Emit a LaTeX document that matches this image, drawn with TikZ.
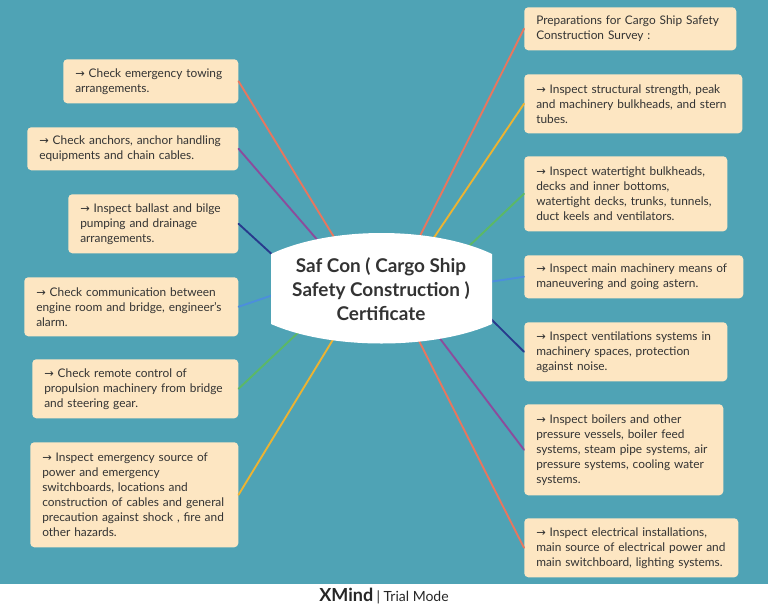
\documentclass[tikz,border=0pt]{standalone}
\usepackage{fontspec}
\setmainfont{Lato}
\newfontfamily\arrowfont{DejaVu Sans}
\usetikzlibrary{positioning}

\definecolor{sea}{HTML}{4FA3B5}
\definecolor{cardfill}{HTML}{FDE6C2}
\definecolor{ink}{HTML}{333333}
\definecolor{coral}{HTML}{E8765E}
\definecolor{plum}{HTML}{8C4C9C}
\definecolor{navy}{HTML}{283A8C}
\definecolor{sky}{HTML}{4C8EDC}
\definecolor{leaf}{HTML}{5CB865}
\definecolor{gold}{HTML}{EDB331}

\newcommand{\arr}{{\arrowfont\fontsize{8.5}{8.5}\selectfont →}}

\tikzset{
  card/.style={fill=cardfill, rounded corners=3pt, anchor=north west, align=left,
    inner xsep=9pt, inner ysep=0pt, text=ink, font=\fontsize{8.9}{11.25}\selectfont},
  branch/.style={line width=1.4pt, line cap=round},
}

\begin{document}
\begin{tikzpicture}[x=0.75pt,y=-0.75pt]
\useasboundingbox (0,0) rectangle (768,611);
\fill[sea] (0,0) rectangle (768,611);

% left side
\node[card, text width=113.25pt, minimum height=33pt] (tow) at (63,59)
  {\arr\ Check emergency towing\\arrangements.};
\node[card, text width=140.25pt, minimum height=32.25pt] (anchors) at (27,127)
  {\arr\ Check anchors, anchor handling\\equipments and chain cables.};
\node[card, text width=109.5pt, minimum height=44.25pt] (ballast) at (68,194)
  {\arr\ Inspect ballast and bilge\\pumping and drainage\\arrangements.};
\node[card, text width=142.5pt, minimum height=44.25pt] (comm) at (24,277)
  {\arr\ Check communication between\\engine room and bridge, engineer’s\\alarm.};
\node[card, text width=136.5pt, minimum height=44.25pt] (remote) at (32,359)
  {\arr\ Check remote control of\\propulsion machinery from bridge\\and steering gear.};
\node[card, text width=138pt, minimum height=78.75pt] (emergency) at (30,442)
  {\arr\ Inspect emergency source of\\power and emergency\\switchboards, locations and\\construction of cables and general\\precaution against shock , fire and\\other hazards.};

% right side
\node[card, text width=141pt, minimum height=32.25pt] (prep) at (524,7)
  {Preparations for Cargo Ship Safety\\Construction Survey :};
\node[card, text width=145.5pt, minimum height=44.25pt] (struct) at (524,74)
  {\arr\ Inspect structural strength, peak\\and machinery bulkheads, and stern\\tubes.};
\node[card, text width=134.25pt, minimum height=56.25pt] (water) at (524,156)
  {\arr\ Inspect watertight bulkheads,\\decks and inner bottoms,\\watertight decks, trunks, tunnels,\\duct keels and ventilators.};
\node[card, text width=146.25pt, minimum height=32.25pt] (machinery) at (524,255)
  {\arr\ Inspect main machinery means of\\maneuvering and going astern.};
\node[card, text width=134.25pt, minimum height=44.25pt] (vent) at (524,322)
  {\arr\ Inspect ventilations systems in\\machinery spaces, protection\\against noise.};
\node[card, text width=131.25pt, minimum height=68.25pt] (boilers) at (524,404)
  {\arr\ Inspect boilers and other\\pressure vessels, boiler feed\\systems, steam pipe systems, air\\pressure systems, cooling water\\systems.};
\node[card, text width=142.5pt, minimum height=44.25pt] (electric) at (524,518)
  {\arr\ Inspect electrical installations,\\main source of electrical power and\\main switchboard, lighting systems.};

% ends of the branches, under the central topic
\coordinate (h-tow) at (337,242);
\coordinate (h-anchors) at (320,243);
\coordinate (h-ballast) at (276,258);
\coordinate (h-comm) at (279,293);
\coordinate (h-remote) at (303,328);
\coordinate (h-emergency) at (337,333);
\coordinate (h-prep) at (418,240);
\coordinate (h-struct) at (431,242);
\coordinate (h-water) at (466,249);
\coordinate (h-machinery) at (482,283);
\coordinate (h-vent) at (486,314);
\coordinate (h-boilers) at (435,332);
\coordinate (h-electric) at (416,335);

\draw[branch, coral] (tow.east) -- (h-tow);
\draw[branch, plum] (anchors.east) -- (h-anchors);
\draw[branch, navy] (ballast.east) -- (h-ballast);
\draw[branch, sky] (comm.east) -- (h-comm);
\draw[branch, leaf] (remote.east) -- (h-remote);
\draw[branch, gold] (emergency.east) -- (h-emergency);
\draw[branch, coral] (prep.west) -- (h-prep);
\draw[branch, gold] (struct.west) -- (h-struct);
\draw[branch, leaf] (water.west) -- (h-water);
\draw[branch, sky] (machinery.west) -- (h-machinery);
\draw[branch, navy] (vent.west) -- (h-vent);
\draw[branch, plum] (boilers.west) -- (h-boilers);
\draw[branch, coral] (electric.west) -- (h-electric);

% central topic
\fill[white] (271,254) .. controls (330,226) and (433,226) .. (492,254)
  -- (492,324) .. controls (433,350) and (330,350) .. (271,324) -- cycle;
\node[text=ink, align=center, font=\fontsize{14.2}{18}\selectfont\bfseries] (hub) at (381,289)
  {Saf Con ( Cargo Ship\\Safety Construction )\\Certificate};

% footer
\fill[white] (0,584) rectangle (768,611);
\node[text=black!85] (mark) at (384,596)
  {{\bfseries\fontsize{13.5}{13.5}\selectfont XMind} {\fontsize{10.5}{13}\selectfont | Trial Mode}};
\end{tikzpicture}
\end{document}
